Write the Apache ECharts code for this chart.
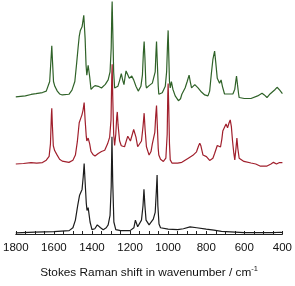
<!DOCTYPE html>
<html><head><meta charset="utf-8">
<script src="https://cdn.jsdelivr.net/npm/echarts@6/dist/echarts.min.js"></script>
<style>html,body{margin:0;padding:0;background:#fff}#c{width:295px;height:286px}</style>
</head><body><div id="c"></div>
<script>
// x-axis tick labels (wavenumber, cm^-1)
const xTicks = [1800, 1600, 1400, 1200, 1000, 800, 600, 400];

// Spectra: [wavenumber, relative intensity]
const blackSpectrum = [
[1800,0.7],[1700,1.5],[1600,2],[1520,3],[1500,6],[1487,14],[1475,29],[1465,40],[1458,42],[1452,46],
[1446,59],[1441,73],[1436,54],[1430,32],[1426,24],[1420,27],[1417,26],[1410,12],[1400,4],[1385,5],
[1372,9],[1366,10],[1355,6],[1341,4],[1325,6],[1315,9],[1305,19],[1299,49],[1295,101],[1291,54],
[1285,12],[1275,4],[1250,3],[1200,3],[1180,6],[1172,14],[1168,15],[1160,7],[1150,7],[1140,14],
[1132,29],[1127,46],[1122,29],[1116,14],[1100,9],[1090,11],[1078,15],[1068,22],[1062,44],[1058,61],
[1054,29],[1048,10],[1040,6],[1000,4.5],[950,4],[920,5],[885,7],[850,6],[800,4.5],[760,3.5],
[720,2.3],[710,1],[600,1],[450,1],[410,1.3],[400,1]
];
const redSpectrum = [
[1800,-1],[1760,-0.5],[1720,0.5],[1711,1],[1690,0],[1660,0.5],[1640,3],[1625,7],[1618,20],[1613,50],
[1611,57],[1608,40],[1603,18],[1596,13],[1585,9],[1580,8],[1570,4],[1556,2],[1521,0.7],[1500,3],
[1487,8.3],[1477,22],[1467,42],[1460,46],[1453,50],[1447,55],[1441,63],[1436,45],[1430,28],[1427,23],
[1420,26],[1417,27],[1412,20],[1405,12],[1395,9],[1384,7.3],[1375,9],[1367,10],[1350,12],[1333,13.3],
[1318,20],[1307,27],[1300,45],[1296,90],[1294,103],[1291,70],[1286,30],[1281,18.3],[1275,30],[1270,48],
[1267,53.3],[1263,40],[1255,23.3],[1246,18],[1229,17],[1212,28],[1198,23],[1181,35],[1169,27],[1160,17],
[1152,15],[1140,23],[1132,38],[1126,52],[1121,35],[1114,17],[1100,8.3],[1090,12],[1083,20],[1070,32],
[1065,50],[1061,60],[1057,40],[1052,15],[1049,8.3],[1040,4],[1025,1.7],[1012,5],[1005,30],[1002,70],
[1000,83],[997,60],[993,20],[989,3.3],[980,0],[950,0],[928,0.7],[894,5],[870,8],[851,11.7],
[840,18],[834,20.7],[828,18],[817,8.3],[799,6.7],[782,2.7],[773,0.7],[765,5],[756,10],[742,18.3],
[733,18],[725,16.7],[718,25],[713,33.3],[704,31.7],[696,40.7],[688,36.7],[680,42],[674,45],[668,38],
[662,23.3],[655,10],[650,3.3],[644,15],[639,26],[634,15],[627,5],[602,1.7],[565,0],[540,-1],
[515,-3.3],[483,-3.3],[460,-1],[447,0.7],[431,-1],[415,0.5],[405,1],[400,0.5]
];
const greenSpectrum = [
[1800,-1],[1750,0],[1720,1.5],[1694,2.3],[1660,3.5],[1640,5],[1633,6.7],[1622,15],[1616,35],[1611,52.3],
[1607,35],[1602,15],[1595,10],[1582,5],[1570,2],[1556,1],[1521,1.7],[1505,6],[1490,15],[1480,35],
[1473,50],[1467,62],[1461,68.3],[1452,72],[1448,73.3],[1443,84],[1441,84],[1436,60],[1431,32],[1427,21.7],
[1420,32],[1417,33.3],[1412,20],[1405,6.7],[1395,9],[1384,10.7],[1375,9.5],[1367,10],[1350,8.3],[1330,12],
[1315,16.7],[1305,25],[1299,50],[1296,85],[1294,98.3],[1291,70],[1286,25],[1281,8.3],[1272,9],[1264,10],
[1255,16],[1246,23.3],[1238,16],[1232,11.7],[1226,20],[1221,26],[1212,22],[1204,18.3],[1191,20.7],[1181,16.7],
[1169,10],[1157,5],[1143,10],[1135,22],[1130,45],[1126,56.7],[1122,40],[1117,12],[1114,8.3],[1100,10.7],
[1083,13.3],[1075,15],[1068,25],[1064,45],[1061,56.7],[1057,35],[1052,10],[1049,1.7],[1031,3.3],[1015,10],
[1008,25],[1003,55],[1000,68.3],[997,45],[993,15],[989,8.3],[983,15],[975,7],[963,0],[946,-5],
[935,-3],[928,1.7],[911,8.3],[900,15],[890,21.7],[884,15],[877,8.3],[868,10],[860,11.7],[851,10],
[843,8.3],[825,4],[808,1],[791,0],[782,5],[773,23.3],[765,38],[756,46.7],[750,35],[742,18.3],
[730,13.3],[722,16.7],[715,10],[704,2],[694,0],[660,2],[650,7],[645,15],[641,20.7],[636,12],
[630,2],[627,-1.7],[600,-2.7],[565,-2.7],[530,0],[507,2.7],[495,1],[481,-1.7],[465,2],[455,4],
[438,6.7],[428,9],[421,10.7],[414,6],[408,5],[400,2.5]
];

// vertical stacking offsets (same units as intensity)
const OFFSET_BLACK = 0.5;
const OFFSET_RED = 74;
const OFFSET_GREEN = 144;

function shift(arr, off){ return arr.map(p => [p[0], p[1] + off]); }

const chart = echarts.init(document.getElementById('c'), null, {renderer:'canvas'});
const lineSeries = (name, data, color) => ({
  name, type:'line', data, showSymbol:false, symbol:'none', smooth:false,
  lineStyle:{color, width:1.2}, silent:true, animation:false
});
chart.setOption({
  animation:false,
  backgroundColor:'#fff',
  grid:{left:12.7, right:11, top:0, bottom:42, containLabel:false},
  xAxis:{
    type:'value', inverse:true, min:400, max:1800, interval:200,
    axisLine:{show:true, onZero:false, lineStyle:{color:'#222', width:1}},
    axisTick:{show:true, inside:true, length:3, lineStyle:{color:'#222'}},
    minorTick:{show:true, splitNumber:4, length:3, lineStyle:{color:'#222'}},
    splitLine:{show:false},
    axisLabel:{margin:8, fontSize:11.5, color:'#111', fontFamily:'Liberation Sans, Arial, sans-serif',
      formatter: v => xTicks.includes(v) ? String(v) : ''},
    name:'Stokes Raman shift in wavenumber / cm{sup|-1}',
    nameLocation:'middle', nameGap:31,
    nameTextStyle:{fontSize:11.8, color:'#111', fontFamily:'Liberation Sans, Arial, sans-serif', lineHeight:16,
      rich:{sup:{fontSize:7.5, color:'#111', fontFamily:'Liberation Sans, Arial, sans-serif', verticalAlign:'top', lineHeight:16, padding:[0,0,4,0]}}}
  },
  yAxis:{type:'value', min:0, max:244, show:false},
  series:[
    lineSeries('green', shift(greenSpectrum, OFFSET_GREEN), '#2f6228'),
    lineSeries('red', shift(redSpectrum, OFFSET_RED), '#a01f2c'),
    lineSeries('black', shift(blackSpectrum, OFFSET_BLACK), '#1c1c1c')
  ]
});
</script>
</body></html>
